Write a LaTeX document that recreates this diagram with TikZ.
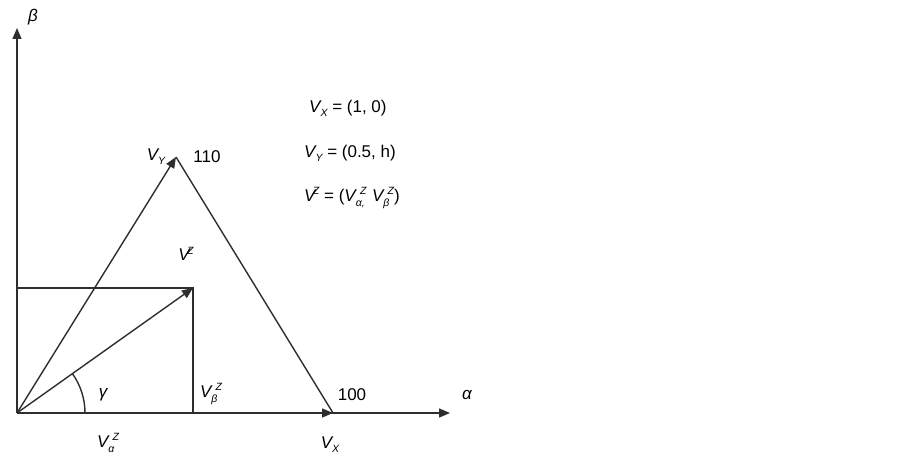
\documentclass[tikz,border=0pt]{standalone}
\usepackage{fontspec}
\setmainfont{Liberation Sans}
\usetikzlibrary{arrows.meta}
\newcommand{\mysb}[1]{\raisebox{-0.45ex}{\fontsize{10.5}{11}\selectfont\itshape #1}}
\newcommand{\mysp}[1]{\raisebox{0.75ex}{\fontsize{10.5}{11}\selectfont\itshape #1}}
\newcommand{\mysbsp}[2]{\rlap{\raisebox{-0.6ex}{\fontsize{10.5}{11}\selectfont\itshape #1}}\hspace{0.25em}\raisebox{0.75ex}{\fontsize{10.5}{11}\selectfont\itshape #2}}
\begin{document}
\begin{tikzpicture}[x=1pt,y=1pt,
  line/.style={draw=black!82, line width=1.4pt},
  arr/.style={line, -{Triangle[length=11pt,width=9pt]}},
  lbl/.style={inner sep=0pt, font=\fontsize{17}{20}\selectfont},
  eq/.style={lbl, anchor=west}]
\useasboundingbox (0,0) rectangle (903,464);
\coordinate (O) at (17,51);
\coordinate (Btop) at (17,436);
\coordinate (Aend) at (450,51);
\coordinate (VX) at (333,51);
\coordinate (VY) at (176,307);
\coordinate (VZ) at (193,176);
\coordinate (VZx) at (193,51);
\coordinate (VZy) at (17,176);
\coordinate (G0) at (85,51);
% axes
\draw[arr] (O) -- (Btop);
\draw[arr] (O) -- (Aend);
\draw[arr] (O) -- (VX);
% vectors
\draw[arr] (O) -- (VY);
\draw[arr] (O) -- (VZ);
\draw[line] (VY) -- (VX);
\draw[line] (VZy) -- (VZ) -- (VZx);
% angle
\draw[line] (G0) arc[start angle=0, end angle=35.4, radius=68];
% labels
\node[lbl] (lb) at (33,447) {\itshape β};
\node[lbl] (la) at (467,69) {\itshape α};
\node[lbl] (lvy) at (156,307) {\itshape V\mysb{Y}};
\node[lbl] (l110) at (207,307) {110};
\node[lbl] (lvz) at (186,210) {\itshape V\kern-0.15em\mysp{Z}};
\node[lbl] (lvbz) at (211,70) {\itshape V\mysbsp{β}{Z}};
\node[lbl] (lg) at (103,69) {\itshape γ};
\node[lbl] (l100) at (352,69) {100};
\node[lbl] (lvaz) at (108,21) {\itshape V\mysbsp{α}{Z}};
\node[lbl] (lvx) at (330,19) {\itshape V\mysb{X}};
\node[eq] (e1) at (309,356) {{\itshape V}\mysb{X} = (1, 0)};
\node[eq] (e2) at (304,311) {{\itshape V}\mysb{Y} = (0.5, h)};
\node[eq] (e3) at (304,266) {{\itshape V}\kern-0.15em\mysp{Z} = ({\itshape V}\mysbsp{α,}{Z}\hspace{0.05em} {\itshape V}\mysbsp{β}{Z})};
\end{tikzpicture}
\end{document}
